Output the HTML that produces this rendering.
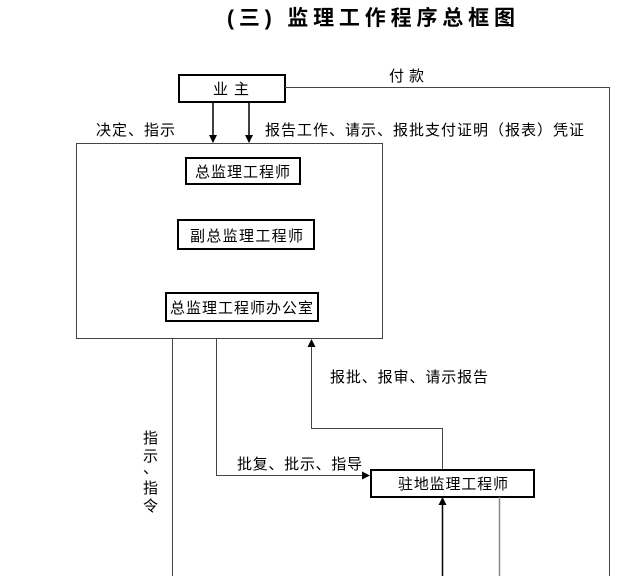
<!DOCTYPE html>
<html><head><meta charset="utf-8"><style>
html,body{margin:0;padding:0;background:#fff;width:636px;height:576px;overflow:hidden}
text{font-family:"Liberation Sans","Noto Sans CJK SC",sans-serif;fill:#000}
</style></head><body>
<svg width="636" height="576" viewBox="0 0 636 576" xmlns="http://www.w3.org/2000/svg">
<defs><marker id="a" markerWidth="8" markerHeight="8" refX="7" refY="4" orient="auto" markerUnits="userSpaceOnUse"><path d="M0,0 L8,4 L0,8 z" fill="#000"/></marker></defs>
<text x="227" y="25" font-size="21" font-weight="bold" textLength="288" lengthAdjust="spacing">(三) 监理工作程序总框图</text>
<g fill="none" stroke="#000">
<rect x="179" y="75" width="106" height="27" stroke-width="2"/>
<line x1="285" y1="87.5" x2="609.5" y2="87.5" stroke="#444"/>
<line x1="609.5" y1="87" x2="609.5" y2="576" stroke="#444"/>
<line x1="213" y1="102" x2="213" y2="142" stroke-width="1.5" marker-end="url(#a)"/>
<line x1="249" y1="102" x2="249" y2="142" stroke-width="1.5" marker-end="url(#a)"/>
<rect x="76.5" y="143.5" width="306" height="195" stroke="#444"/>
<rect x="186" y="158" width="114" height="26" stroke-width="2"/>
<rect x="178" y="220" width="136" height="29" stroke-width="2"/>
<rect x="166" y="293" width="152" height="28" stroke-width="2"/>
<line x1="172.5" y1="339" x2="172.5" y2="576" stroke="#444"/>
<polyline points="216.5,339 216.5,475.5 369,475.5" stroke="#444" marker-end="url(#a)"/>
<polyline points="442.5,470 442.5,428.5 311.5,428.5 311.5,340" stroke="#444" marker-end="url(#a)"/>
<rect x="371" y="470" width="163" height="27" stroke-width="2"/>
<line x1="442.5" y1="576" x2="442.5" y2="498" stroke-width="1.5" marker-end="url(#a)"/>
<line x1="499.5" y1="497" x2="499.5" y2="576" stroke="#888" stroke-width="1.5"/>
</g>
<g font-size="15" lengthAdjust="spacingAndGlyphs">
<text x="213" y="94" textLength="36">业 主</text>
<text x="389" y="81" textLength="35">付 款</text>
<text x="96" y="135" textLength="79">决定、指示</text>
<text x="265" y="135" textLength="319">报告工作、请示、报批支付证明（报表）凭证</text>
<text x="195" y="177" textLength="95">总监理工程师</text>
<text x="190" y="241" textLength="113">副总监理工程师</text>
<text x="170" y="313" textLength="143">总监理工程师办公室</text>
<text x="330" y="382" textLength="158">报批、报审、请示报告</text>
<text x="237" y="469" textLength="125">批复、批示、指导</text>
<text x="398" y="489" textLength="110">驻地监理工程师</text>
<text x="143" y="443">指</text>
<text x="143" y="461">示</text>
<text x="143" y="473">、</text>
<text x="143" y="493">指</text>
<text x="143" y="511">令</text>
</g>
</svg>
</body></html>
